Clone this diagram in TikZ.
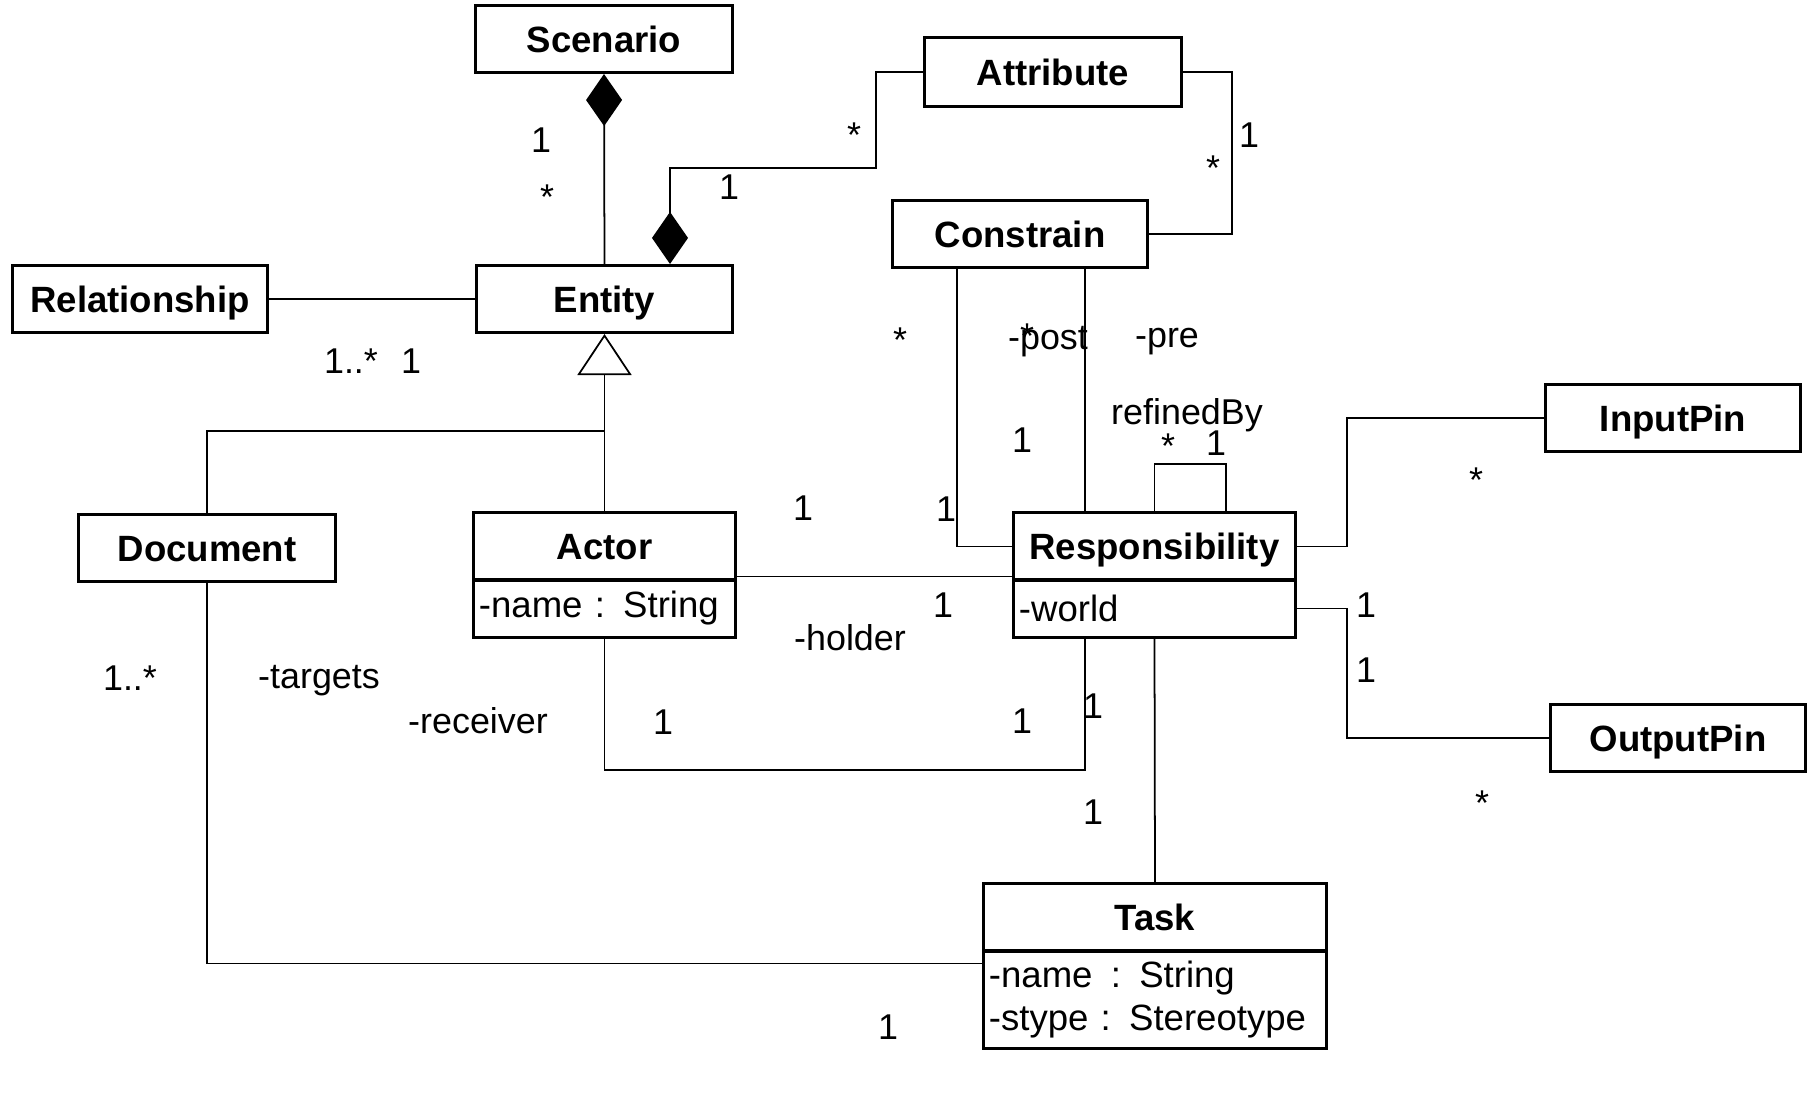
\documentclass[tikz,border=0pt]{standalone}
\usepackage{fontspec}
\setmainfont{Liberation Sans}
\usetikzlibrary{arrows.meta}

\begin{document}
\begin{tikzpicture}[x=0.01cm,y=-0.01cm,
  cls/.style={draw,line width=0.85pt,inner sep=0pt,minimum height=0.67cm,
    font=\fontsize{10.4}{12.5}\selectfont\bfseries,text height=7.45pt,text depth=0pt},
  attr/.style={draw,line width=0.85pt,inner xsep=0.05cm,inner ysep=0pt,align=left,
    font=\fontsize{10.4}{12.2}\selectfont},
  lbl/.style={inner sep=0pt,anchor=base,font=\fontsize{10.2}{12}\selectfont},
  conn/.style={line width=0.5pt},
]
\useasboundingbox (0,0) rectangle (1820,1104);

% classes
\node[cls,minimum width=2.56cm] (scenario) at (604,39) {Scenario};
\node[cls,minimum width=2.57cm,minimum height=0.68cm] (attribute) at (1053,72) {Attribute};
\node[cls,minimum width=2.55cm] (constrain) at (1020,234) {Constrain};
\node[cls,minimum width=2.55cm] (relationship) at (140,299) {Relationship};
\node[cls,minimum width=2.55cm] (entity) at (604.5,299) {Entity};
\node[cls,minimum width=2.56cm] (document) at (207,548) {Document};
\node[cls,minimum width=2.61cm] (actor) at (604.5,546.5) {Actor};
\node[attr,text width=2.51cm,minimum height=0.57cm] (actorattr) at (604.5,608.5) {-name : String};
\node[cls,minimum width=2.81cm] (resp) at (1154.5,546.5) {Responsibility};
\node[attr,text width=2.71cm,minimum height=0.57cm] (respattr) at (1154.5,608.5) {-world};
\node[cls,minimum width=2.55cm] (inputpin) at (1673,418) {InputPin};
\node[cls,minimum width=2.55cm] (outputpin) at (1678,738) {OutputPin};
\node[cls,minimum width=3.42cm] (task) at (1155,917.5) {Task};
\node[attr,text width=3.32cm,minimum height=0.97cm] (taskattr) at (1155,999.5) {-name\enspace: String\\-stype : Stereotype};

% connectors
\draw[conn,{Diamond[length=0.52cm,width=0.36cm]}-] (scenario.south) -- (entity.north);
\draw[conn,-{Diamond[length=0.52cm,width=0.36cm]}] (attribute.west) -| (876,168) -| (670,0 |- entity.north);
\draw[conn] (attribute.east) -| (1232,0 |- constrain.east) -- (constrain.east);
\draw[conn] (relationship.east) -- (entity.west);
\draw[conn,{Triangle[open,length=0.41cm,width=0.54cm]}-] (entity.south) -- (actor.north);
\draw[conn] (entity.south |- 0,431) -| (document.north);
\draw[conn] (957,0 |- constrain.south) |- (resp.west);
\draw[conn] (1085,0 |- constrain.south) -- (1085,0 |- resp.north);
\draw[conn] (resp.north) |- (1226,464) -- (1226,0 |- resp.north);
\draw[conn] (resp.east) -| (1347,0 |- inputpin.west) -- (inputpin.west);
\draw[conn] (respattr.east) -| (1347,0 |- outputpin.west) -- (outputpin.west);
\draw[conn] ([yshift=0.05cm]actor.south east) -- ([yshift=0.05cm]resp.south west);
\draw[conn] (actorattr.south) |- (1085,770) -- (1085,0 |- respattr.south);
\draw[conn] (respattr.south) -- (task.north);
\draw[conn] (document.south) |- ([yshift=-0.14cm]taskattr.north west);

% multiplicities and roles
\node[lbl] (m1) at (541,153) {1};
\node[lbl] (m2) at (547,210) {*};
\node[lbl] (m3) at (854,148) {*};
\node[lbl] (m4) at (729,200) {1};
\node[lbl] (m5) at (1249,148) {1};
\node[lbl] (m6) at (1213,181) {*};
\node[lbl] (m7) at (351,374) {1..*};
\node[lbl] (m8) at (411,374) {1};
\node[lbl] (m9) at (900,353) {*};
\node[lbl] (r1) at (1048,350) {-post};
\node[lbl] (m10) at (1027,349) {*};
\node[lbl] (r2) at (1167,348) {-pre};
\node[lbl] (r3) at (1187,425) {refinedBy};
\node[lbl] (m11) at (1168,459) {*};
\node[lbl] (m12) at (1216,456) {1};
\node[lbl] (m13) at (1022,453) {1};
\node[lbl] (m14) at (946,522) {1};
\node[lbl] (m15) at (803,521) {1};
\node[lbl] (m16) at (1476,493) {*};
\node[lbl] (m17) at (1366,618) {1};
\node[lbl] (m18) at (1366,683) {1};
\node[lbl] (m19) at (1482,816) {*};
\node[lbl] (m20) at (943,618) {1};
\node[lbl] (r4) at (850,651) {-holder};
\node[lbl] (m21) at (130,691) {1..*};
\node[lbl] (r5) at (319,689) {-targets};
\node[lbl] (r6) at (478,734) {-receiver};
\node[lbl] (m22) at (663,735) {1};
\node[lbl] (m23) at (1022,734) {1};
\node[lbl] (m24) at (1093,719) {1};
\node[lbl] (m25) at (1093,825) {1};
\node[lbl] (m26) at (888,1040) {1};
\end{tikzpicture}
\end{document}
